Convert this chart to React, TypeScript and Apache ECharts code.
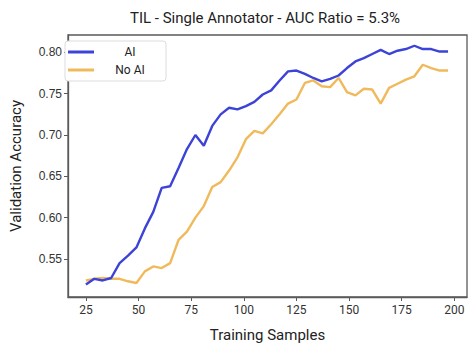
import React, { useEffect, useRef } from "react";
import * as echarts from "echarts";

const titleText = "TIL - Single Annotator - AUC Ratio = 5.3%";
const xLabel = "Training Samples";
const yLabel = "Validation Accuracy";

const samples = [
  25, 29, 33, 37, 41, 45, 49, 53, 57, 61, 65, 69, 73, 77, 81, 85, 89, 93, 97, 101, 105, 109,
  113, 117, 121, 125, 129, 133, 137, 141, 145, 149, 153, 157, 161, 165, 169, 173, 177, 181, 185,
  189, 193, 197,
];

const aiValues = [
  0.519, 0.526, 0.524, 0.527, 0.545, 0.554, 0.564, 0.587, 0.607, 0.636, 0.638, 0.66, 0.683, 0.7,
  0.687, 0.711, 0.725, 0.733, 0.731, 0.735, 0.74, 0.749, 0.754, 0.766, 0.777, 0.778, 0.774,
  0.769, 0.765, 0.768, 0.772, 0.781, 0.789, 0.793, 0.798, 0.803, 0.798, 0.802, 0.804, 0.808,
  0.804, 0.804, 0.801, 0.801,
];

const noAiValues = [
  0.524, 0.526, 0.527, 0.526, 0.526, 0.523, 0.521, 0.535, 0.541, 0.539, 0.545, 0.573, 0.583, 0.6,
  0.614, 0.637, 0.643, 0.657, 0.673, 0.695, 0.705, 0.702, 0.713, 0.725, 0.738, 0.743, 0.763,
  0.766, 0.759, 0.758, 0.769, 0.752, 0.748, 0.756, 0.755, 0.738, 0.757, 0.762, 0.767, 0.771,
  0.785, 0.781, 0.778, 0.778,
];

const xTicks = [25, 50, 75, 100, 125, 150, 175, 200];
const yTicks = [0.55, 0.6, 0.65, 0.7, 0.75, 0.8];

const seriesNames = ["AI", "No AI"];

export default function App() {
  const ref = useRef<HTMLDivElement>(null);
  useEffect(() => {
    if (!ref.current) return;
    const chart = echarts.init(ref.current, undefined, { renderer: "svg" });
    const font = "Roboto, 'Noto Sans', sans-serif";
    const axisColor = "#5a5a5a";
    chart.setOption({
      animation: false,
      backgroundColor: "#ffffff",
      grid: {
        left: 59,
        right: 7,
        top: 35,
        bottom: 48,
        show: true,
        borderColor: axisColor,
        borderWidth: 1.3,
        backgroundColor: "transparent",
      },
      graphic: [
        {
          type: "text",
          x: 265,
          y: 18,
          style: {
            text: titleText,
            fontSize: 15,
            fontFamily: font,
            fill: "#222",
            align: "center",
            verticalAlign: "middle",
          },
        },
      ],
      legend: {
        data: seriesNames,
        orient: "vertical",
        left: 65,
        top: 41,
        icon: "rect",
        itemWidth: 26,
        itemHeight: 3,
        itemGap: 4,
        padding: [4, 5, 4, 3],
        backgroundColor: "#fff",
        borderColor: "#dcdcdc",
        borderWidth: 1,
        borderRadius: 3,
        formatter: (name: string) => `{a|${name}}`,
        textStyle: {
          rich: {
            a: {
              width: 62,
              height: 14,
              lineHeight: 14,
              align: "center",
              fontSize: 12,
              fontFamily: font,
              color: "#222",
            },
          },
        },
      },
      xAxis: {
        type: "value",
        min: 16.5,
        max: 206,
        name: xLabel,
        nameLocation: "middle",
        nameGap: 30,
        nameTextStyle: { fontSize: 15, fontFamily: font, color: "#222" },
        axisLine: { show: true, lineStyle: { color: axisColor, width: 1.3 } },
        axisTick: {
          show: true,
          length: 4,
          lineStyle: { color: axisColor },
          customValues: xTicks,
        },
        axisLabel: {
          fontSize: 12,
          fontFamily: font,
          color: "#333",
          margin: 7,
          customValues: xTicks,
        },
        splitLine: { show: false },
      },
      yAxis: {
        type: "value",
        min: 0.504,
        max: 0.821,
        name: yLabel,
        nameLocation: "middle",
        nameGap: 45,
        nameTextStyle: { fontSize: 15, fontFamily: font, color: "#222" },
        axisLine: { show: true, lineStyle: { color: axisColor, width: 1.3 } },
        axisTick: {
          show: true,
          length: 4,
          lineStyle: { color: axisColor },
          customValues: yTicks,
        },
        axisLabel: {
          fontSize: 12,
          fontFamily: "'Liberation Sans', Arial, sans-serif",
          color: "#333",
          margin: 6,
          customValues: yTicks,
          formatter: (v: number) => v.toFixed(2),
        },
        splitLine: { show: false },
      },
      series: [
        {
          name: seriesNames[0],
          type: "line",
          data: samples.map((x, i) => [x, aiValues[i]]),
          symbol: "none",
          lineStyle: { color: "#3c43d6", width: 2.4 },
          itemStyle: { color: "#3c43d6" },
          z: 3,
        },
        {
          name: seriesNames[1],
          type: "line",
          data: samples.map((x, i) => [x, noAiValues[i]]),
          symbol: "none",
          lineStyle: { color: "#f0ba5c", width: 2.4 },
          itemStyle: { color: "#f0ba5c" },
          z: 2,
        },
      ],
    });
    return () => chart.dispose();
  }, []);
  return (
    <div
      ref={ref}
      style={{ position: "absolute", left: 0, top: 0, width: 474, height: 347 }}
    />
  );
}
